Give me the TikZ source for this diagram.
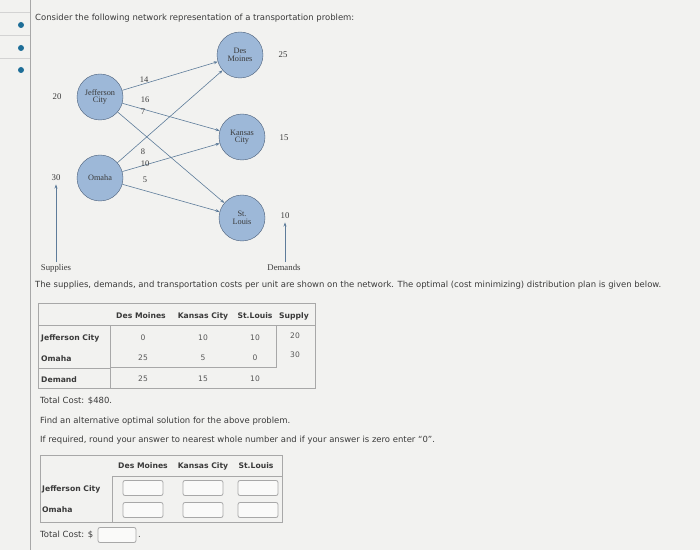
\documentclass[tikz,border=0pt]{standalone}
\usepackage{fontspec}
\setmainfont{DejaVu Sans}
\newfontfamily\serf{Liberation Serif}
\usetikzlibrary{arrows.meta}
\definecolor{bg}{HTML}{F2F2F0}
\definecolor{nodefill}{HTML}{9DB8D8}
\definecolor{nodeline}{HTML}{4A5E78}
\definecolor{edge}{HTML}{5E7C9A}
\definecolor{tline}{HTML}{A8A8A8}
\definecolor{txt}{HTML}{3A3A3A}
\definecolor{dot}{HTML}{1E6E98}
\tikzset{
 city/.style={circle,draw=nodeline,fill=nodefill,minimum size=46bp,inner sep=0pt,align=center,font=\serf\fontsize{8.3}{7.5}\selectfont,text=txt},
 num/.style={font=\serf\fontsize{8.8}{9}\selectfont,text=txt},
 elab/.style={font=\serf\fontsize{8.5}{9}\selectfont,text=txt},
 flow/.style={draw=edge,-{Stealth[length=4bp,width=3bp]},line width=0.6bp},
 body/.style={font=\fontsize{8.5}{9}\selectfont,text=txt,anchor=west,inner sep=0pt},
 hd/.style={font=\bfseries\fontsize{7.7}{8}\selectfont,text=txt,inner sep=0pt},
 cell/.style={font=\fontsize{7.6}{8}\selectfont,text=txt!85,inner sep=0pt},
 inbox/.style={draw=tline,rounded corners=2bp,minimum width=40bp,minimum height=15bp,fill=white!60!bg,line width=0.8bp},
 tb/.style={draw=tline,line width=0.8bp}
}
\begin{document}
\begin{tikzpicture}[x=1bp,y=-1bp]
\fill[bg] (0,0) rectangle (700,550);
\useasboundingbox (0,0) rectangle (700,550);
\draw[tline,line width=1bp] (30,0) -- (30,550);
\foreach \yy in {12,35,58} \draw[tline!50,line width=0.5bp] (0,\yy) -- (30,\yy);
\foreach \yy in {25,48,70} \fill[dot] (21,\yy) circle (3bp);
\node[body] (title) at (35,18) {Consider the following network representation of a transportation problem:};
% network
\node[city] (dm) at (240,55) {Des\\Moines};
\node[city] (jc) at (100,97) {Jefferson\\City};
\node[city] (kc) at (242,137) {Kansas\\City};
\node[city] (om) at (100,178) {Omaha};
\node[city] (sl) at (242,218) {St.\\Louis};
\draw[flow] (jc) -- (dm);
\draw[flow] (jc) -- (kc);
\draw[flow] (jc) -- (sl);
\draw[flow] (om) -- (dm);
\draw[flow] (om) -- (kc);
\draw[flow] (om) -- (sl);
\node[elab] (e1) at (144,80) {14};
\node[elab] (e2) at (145,100) {16};
\node[elab] (e3) at (143,112) {7};
\node[elab] (e4) at (143,152) {8};
\node[elab] (e5) at (145,164) {10};
\node[elab] (e6) at (145,180) {5};
\node[num] (s1) at (57,97) {20};
\node[num] (s2) at (56,178) {30};
\node[num] (d1) at (283,55) {25};
\node[num] (d2) at (284,138) {15};
\node[num] (d3) at (285,216) {10};
\node[num] (sup) at (56,268) {Supplies};
\node[num] (dem) at (284,268) {Demands};
\coordinate (sa) at (56,262);
\coordinate (da) at (285,262);
\draw[flow] (sa) -- (s2.south);
\draw[flow] (da) -- (d3.south);
\node[body] (t1) at (35,285) {The supplies, demands, and transportation costs per unit are shown on the network. The optimal (cost minimizing) distribution plan is given below.};
% table 1
\draw[tb] (38,303) rectangle (315,388);
\draw[tb] (38,325) -- (315,325);
\draw[tb] (110,325) -- (110,388);
\draw[tb] (276,325) -- (276,367) -- (110,367);
\draw[tb] (38,368) -- (110,368);
\node[hd] at (141,316) {Des Moines};
\node[hd] at (203,316) {Kansas City};
\node[hd] at (255,316) {St.Louis};
\node[hd] at (294,316) {Supply};
\node[hd,anchor=west] at (41,338) {Jefferson City};
\node[hd,anchor=west] at (41,359) {Omaha};
\node[hd,anchor=west] at (41,380) {Demand};
\foreach \x/\a/\b/\c in {143/0/25/25,203/10/5/15,255/10/0/10} {
 \node[cell] at (\x,338) {\a}; \node[cell] at (\x,358) {\b}; \node[cell] at (\x,379) {\c};}
\node[cell] at (295,336) {20};
\node[cell] at (295,355) {30};
\node[body] at (40,401) {Total Cost: \$480.};
\node[body] at (40,421) {Find an alternative optimal solution for the above problem.};
\node[body] at (40,440) {If required, round your answer to nearest whole number and if your answer is zero enter ``0''.};
% table 2
\draw[tb] (40,455) rectangle (282,522);
\draw[tb] (112,476) -- (282,476);
\draw[tb] (112,476) -- (112,522);
\node[hd] at (143,466) {Des Moines};
\node[hd] at (203,466) {Kansas City};
\node[hd] at (256,466) {St.Louis};
\node[hd,anchor=west] at (42,489) {Jefferson City};
\node[hd,anchor=west] at (42,510) {Omaha};
\foreach \x in {143,203,258} { \node[inbox] at (\x,488) {}; \node[inbox] at (\x,510) {}; }
\node[body] at (40,535) {Total Cost: \$};
\node[inbox,minimum width=38bp] at (117,535) {};
\node[body] at (138,537) {.};
\end{tikzpicture}
\end{document}
